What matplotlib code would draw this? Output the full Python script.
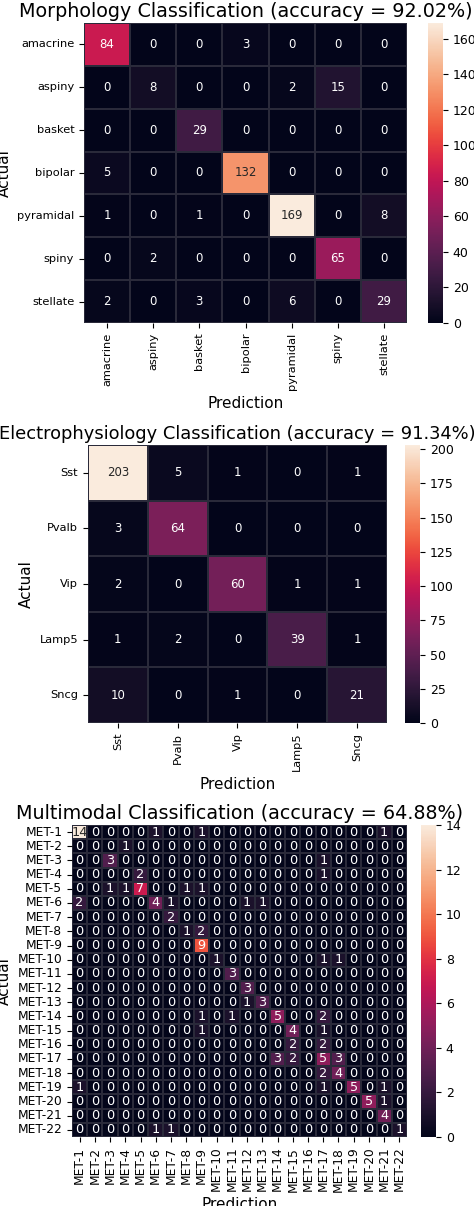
import numpy as np
import matplotlib.pyplot as plt
import seaborn as sns

morph_labels = ['amacrine', 'aspiny', 'basket', 'bipolar', 'pyramidal', 'spiny', 'stellate']
morph_cm = [
    [84, 0, 0, 3, 0, 0, 0],
    [0, 8, 0, 0, 2, 15, 0],
    [0, 0, 29, 0, 0, 0, 0],
    [5, 0, 0, 132, 0, 0, 0],
    [1, 0, 1, 0, 169, 0, 8],
    [0, 2, 0, 0, 0, 65, 0],
    [2, 0, 3, 0, 6, 0, 29],
]

ephys_labels = ['Sst', 'Pvalb', 'Vip', 'Lamp5', 'Sncg']
ephys_cm = [
    [203, 5, 1, 0, 1],
    [3, 64, 0, 0, 0],
    [2, 0, 60, 1, 1],
    [1, 2, 0, 39, 1],
    [10, 0, 1, 0, 21],
]

met_labels = [f'MET-{i}' for i in range(1, 23)]
met_cm = [
    [14,0,0,0,0,1,0,0,1,0,0,0,0,0,0,0,0,0,0,0,1,0],
    [0,0,0,1,0,0,0,0,0,0,0,0,0,0,0,0,0,0,0,0,0,0],
    [0,0,3,0,0,0,0,0,0,0,0,0,0,0,0,0,1,0,0,0,0,0],
    [0,0,0,0,2,0,0,0,0,0,0,0,0,0,0,0,1,0,0,0,0,0],
    [0,0,1,1,7,0,0,1,1,0,0,0,0,0,0,0,0,0,0,0,0,0],
    [2,0,0,0,0,4,1,0,0,0,0,1,1,0,0,0,0,0,0,0,0,0],
    [0,0,0,0,0,0,2,0,0,0,0,0,0,0,0,0,0,0,0,0,0,0],
    [0,0,0,0,0,0,0,1,2,0,0,0,0,0,0,0,0,0,0,0,0,0],
    [0,0,0,0,0,0,0,0,9,0,0,0,0,0,0,0,0,0,0,0,0,0],
    [0,0,0,0,0,0,0,0,0,1,0,0,0,0,0,0,1,1,0,0,0,0],
    [0,0,0,0,0,0,0,0,0,0,3,0,0,0,0,0,0,0,0,0,0,0],
    [0,0,0,0,0,0,0,0,0,0,0,3,0,0,0,0,0,0,0,0,0,0],
    [0,0,0,0,0,0,0,0,0,0,0,1,3,0,0,0,0,0,0,0,0,0],
    [0,0,0,0,0,0,0,0,1,0,1,0,0,5,0,0,2,0,0,0,0,0],
    [0,0,0,0,0,0,0,0,1,0,0,0,0,0,4,0,1,0,0,0,0,0],
    [0,0,0,0,0,0,0,0,0,0,0,0,0,0,2,0,2,0,0,0,0,0],
    [0,0,0,0,0,0,0,0,0,0,0,0,0,3,2,0,5,3,0,0,0,0],
    [0,0,0,0,0,0,0,0,0,0,0,0,0,0,0,0,2,4,0,0,0,0],
    [1,0,0,0,0,0,0,0,0,0,0,0,0,0,0,0,1,0,5,0,1,0],
    [0,0,0,0,0,0,0,0,0,0,0,0,0,0,0,0,0,0,0,5,1,0],
    [0,0,0,0,0,0,0,0,0,0,0,0,0,0,0,0,0,0,0,0,4,0],
    [0,0,0,0,0,1,1,0,0,0,0,0,0,0,0,0,0,0,0,0,0,1],
]

W, H = 474, 1206
fig = plt.figure(figsize=(W / 100, H / 100), dpi=100)


def box(x0, y0, x1, y1):
    return [x0 / W, 1 - y1 / H, (x1 - x0) / W, (y1 - y0) / H]


panels = [
    (morph_cm, morph_labels, 'Morphology Classification (accuracy = 92.02%)',
     box(84, 23, 407, 323), box(428, 23, 443, 323), 8.5, 8.2, 13.8),
    (ephys_cm, ephys_labels, 'Electrophysiology Classification (accuracy = 91.34%)',
     box(88, 445, 387, 723), box(405, 445, 420, 723), 8.5, 8.2, 12.9),
    (met_cm, met_labels, 'Multimodal Classification (accuracy = 64.88%)',
     box(72, 825, 407, 1137), box(421, 825, 436, 1137), 9.3, 8.8, 13.8),
]

for cm, labels, title, pos, cpos, afs, tfs, title_fs in panels:
    ax = fig.add_axes(pos)
    cax = fig.add_axes(cpos)
    sns.heatmap(np.array(cm), annot=True, fmt='d', ax=ax, cbar_ax=cax,
                xticklabels=labels, yticklabels=labels,
                linewidths=0.3, linecolor='#2a2a3a', annot_kws={'size': afs})
    ax.set_title(title, fontsize=title_fs, pad=4)
    ax.set_xlabel('Prediction', fontsize=11)
    ax.set_ylabel('Actual', fontsize=11)
    ax.tick_params(axis='x', labelsize=tfs, rotation=90)
    ax.tick_params(axis='y', labelsize=tfs, rotation=0)
    cax.tick_params(labelsize=9)

fig.savefig('out.png', dpi=100)
